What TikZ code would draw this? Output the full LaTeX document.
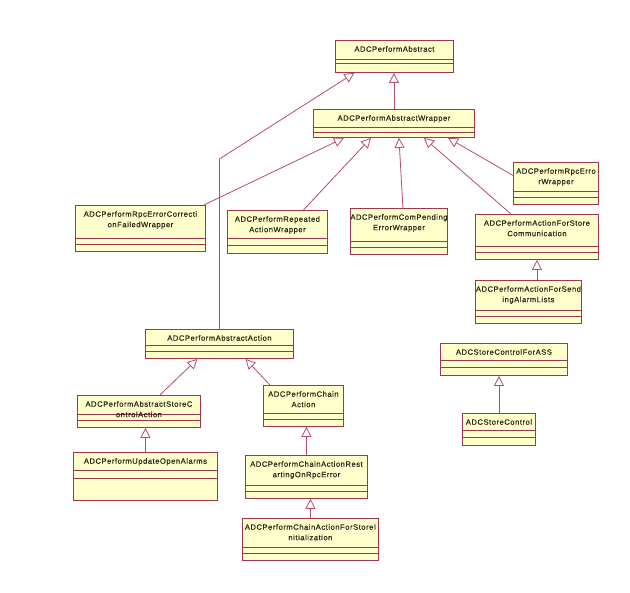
\documentclass[tikz,border=0pt]{standalone}
\usepackage{fontspec}
\newfontfamily\umlfont[LetterSpace=7, FakeBold=0.5]{Liberation Sans}
\usetikzlibrary{arrows.meta}
\definecolor{umlfill}{RGB}{255,255,204}
\definecolor{umlline}{RGB}{185,75,115}
\definecolor{umlborder}{RGB}{160,55,80}
\definecolor{umltext}{RGB}{40,40,25}
\tikzset{
  comps/.code 2 args={\def\compa{#1}\def\compb{#2}},
  umlclass/.style={draw=umlborder, fill=umlfill, anchor=north west, inner sep=0pt, line width=0.9pt,
    comps={7}{13}, label={[umlname]north:{#1}},
    path picture={
      \draw[umlborder, line width=0.9pt] ([yshift=\compa pt]path picture bounding box.south west) -- ([yshift=\compa pt]path picture bounding box.south east);
      \draw[umlborder, line width=0.9pt] ([yshift=\compb pt]path picture bounding box.south west) -- ([yshift=\compb pt]path picture bounding box.south east);
    }},
  umlname/.style={anchor=north, inner sep=0pt, yshift=-6pt, align=center, text=umltext,
    font=\umlfont\fontsize{7.6}{10.5}\selectfont},
  inherit/.style={draw=umlline, line width=0.8pt, -{Triangle[open, length=10pt, width=10pt]}}
}
\begin{document}
\begin{tikzpicture}[x=1pt, y=-1pt]
  \fill[white] (0,0) rectangle (630,593);
  \useasboundingbox (0,0) rectangle (630,593);

  % classes
  \node[umlclass={ADCPerformAbstract}, minimum width=118, minimum height=32, comps={9}{13}] (abstract) at (335,40) {};
  \node[umlclass={ADCPerformAbstractWrapper}, minimum width=161, minimum height=28, comps={5}{10}] (wrapper) at (313,109) {};
  \node[umlclass={ADCPerformRpcErrorCorrecti\\onFailedWrapper}, minimum width=130, minimum height=46] (rpccorr) at (75,205) {};
  \node[umlclass={ADCPerformRepeated\\ActionWrapper}, minimum width=100, minimum height=43, comps={8}{15}] (repeated) at (227,210) {};
  \node[umlclass={ADCPerformComPending\\ErrorWrapper}, minimum width=97, minimum height=46] (compending) at (350,208) {};
  \node[umlclass={ADCPerformRpcErro\\rWrapper}, minimum width=85, minimum height=42] (rpcerr) at (513,162) {};
  \node[umlclass={ADCPerformActionForStore\\Communication}, minimum width=123, minimum height=45] (storecomm) at (475,214) {};
  \node[umlclass={ADCPerformActionForSend\\ingAlarmLists}, minimum width=106, minimum height=43] (sendalarm) at (475,280) {};
  \node[umlclass={ADCPerformAbstractAction}, minimum width=148, minimum height=29] (absaction) at (145,329) {};
  \node[umlclass={ADCPerformAbstractStoreC\\ontrolAction}, minimum width=123, minimum height=32] (storectrlaction) at (77,395) {};
  \node[umlclass={ADCPerformUpdateOpenAlarms}, minimum width=144, minimum height=48, comps={22}{30}] (updatealarms) at (73,452) {};
  \node[umlclass={ADCPerformChain\\Action}, minimum width=80, minimum height=41] (chain) at (263,385) {};
  \node[umlclass={ADCPerformChainActionRest\\artingOnRpcError}, minimum width=122, minimum height=43] (restarting) at (245,455) {};
  \node[umlclass={ADCPerformChainActionForStoreI\\nitialization}, minimum width=136, minimum height=42] (initialization) at (242,518) {};
  \node[umlclass={ADCStoreControlForASS}, minimum width=127, minimum height=32, comps={8}{15}] (forass) at (440,343) {};
  \node[umlclass={ADCStoreControl}, minimum width=73, minimum height=32, comps={8}{15}] (storecontrol) at (462,413) {};

  % inheritance
  \draw[inherit] (wrapper.north) -- (wrapper.north |- abstract.south);
  \draw[inherit] (absaction.north) -- ++(0,-170) -- ([xshift=-40pt]abstract.south);
  \draw[inherit] ([xshift=-2pt]rpccorr.north east) -- ([xshift=-50pt]wrapper.south);
  \draw[inherit] ([xshift=26pt]repeated.north) -- ([xshift=-23pt]wrapper.south);
  \draw[inherit] ([xshift=4pt]compending.north) -- ([xshift=5pt]wrapper.south);
  \draw[inherit] ([xshift=-26pt]storecomm.north) -- ([xshift=30pt]wrapper.south);
  \draw[inherit] ([yshift=8pt]rpcerr.west) -- ([xshift=54pt]wrapper.south);
  \draw[inherit] (sendalarm.north -| storecomm.south) -- (storecomm.south);
  \draw[inherit] ([xshift=21pt]storectrlaction.north) -- ([xshift=-22pt]absaction.south);
  \draw[inherit] ([xshift=7pt]chain.north west) -- ([xshift=26pt]absaction.south);
  \draw[inherit] (updatealarms.north) -- (updatealarms.north |- storectrlaction.south);
  \draw[inherit] (restarting.north) -- (restarting.north |- chain.south);
  \draw[inherit] (initialization.north) -- (initialization.north |- restarting.south);
  \draw[inherit] (storecontrol.north) -- (storecontrol.north |- forass.south);
\end{tikzpicture}
\end{document}
